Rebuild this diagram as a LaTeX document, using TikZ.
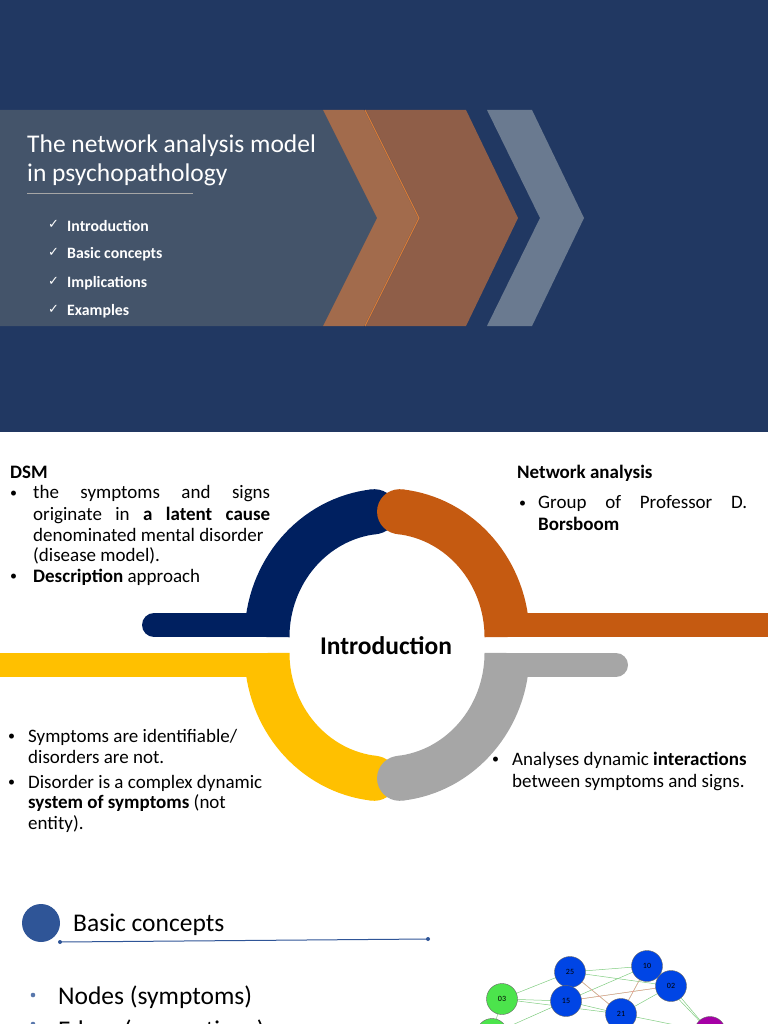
\documentclass[tikz,border=0pt]{standalone}
\usepackage{fontspec}
\setmainfont{Carlito}
\newfontfamily\dejavu{DejaVu Sans}
\begin{document}
\begin{tikzpicture}[x=1pt,y=-1pt,
  txt/.style={anchor=west,inner sep=0pt,font=\fontsize{19}{22}\selectfont},
  jl/.style={anchor=west,inner sep=0pt,font=\fontsize{19}{22}\selectfont,text width=#1,align=left},
  bul/.style={anchor=west,inner sep=0pt,font=\fontsize{14}{16}\selectfont},
  chk/.style={anchor=west,inner sep=0pt,text=white,font=\fontsize{15.8}{18}\selectfont\bfseries},
  gnode/.style={circle,draw=black!60,line width=0.4pt,minimum size=31pt,inner sep=0pt,font=\fontsize{8}{9}\selectfont},
  ed/.style={green!60!black!50,line width=0.5pt},
  ring/.style={line width=45pt}]
\useasboundingbox (0,0) rectangle (768,1024);
\clip (0,0) rectangle (768,1024);
\definecolor{topbg}{HTML}{213862}
\definecolor{band}{HTML}{44546A}
\definecolor{or1}{HTML}{A26B4C}
\definecolor{or2}{HTML}{8F5E48}
\definecolor{orl}{HTML}{D07838}
\definecolor{chv}{HTML}{6A7A90}
\definecolor{navy}{HTML}{002060}
\definecolor{orng}{HTML}{C55A11}
\definecolor{yel}{HTML}{FFC000}
\definecolor{gry}{HTML}{A6A6A6}
\definecolor{blu}{HTML}{2F5597}
% top slide
\fill[topbg] (0,0) rectangle (768,432);
\fill[band] (0,110) -- (323,110) -- (377,218) -- (323,326) -- (0,326) -- cycle;
\fill[or1] (323,110) -- (364,110) -- (418,218) -- (364,326) -- (323,326) -- (377,218) -- cycle;
\fill[or2] (366,110) -- (466,110) -- (518,218) -- (466,326) -- (366,326) -- (420,218) -- cycle;
\draw[orl,line width=1.5pt] (365,110) -- (419,218) -- (365,326);
\fill[chv] (487,110) -- (532,110) -- (584,218) -- (532,326) -- (487,326) -- (540,218) -- cycle;
\node[anchor=west,inner sep=0pt,text=white,font=\fontsize{25.5}{28}\selectfont] (t1) at (27,146) {The network analysis model};
\node[anchor=west,inner sep=0pt,text=white,font=\fontsize{25.5}{28}\selectfont] (t2) at (27,175) {in psychopathology};
\draw[gray!70,line width=0.8pt] (27,193) -- (193,193);
\foreach \y/\t [count=\i] in {226/Introduction,254/Basic concepts,283/Implications,311/Examples}{
  \node[anchor=west,inner sep=0pt,text=white,font=\dejavu\fontsize{13}{14}\selectfont] (c\i) at (48,\y-2) {✓};
  \node[chk] (k\i) at (67,\y) {\t};
}
% ring
\draw[navy,line width=24pt,line cap=round] (154,625) -- (266,625);
\draw[orng,line width=24pt] (500,625) -- (768,625);
\draw[yel,line width=24pt] (0,665) -- (270,665);
\draw[gry,line width=24pt,line cap=round] (500,665) -- (616,665);
\draw[navy,ring] (267,637) arc[start angle=180,end angle=264,x radius=120,y radius=126] coordinate (e1);
\draw[orng,ring] (507,637) arc[start angle=360,end angle=276,x radius=120,y radius=126] coordinate (e2);
\draw[yel,ring] (267,653) arc[start angle=180,end angle=96,x radius=120,y radius=126] coordinate (e3);
\draw[gry,ring] (507,653) arc[start angle=0,end angle=84,x radius=120,y radius=126] coordinate (e4);
\fill[navy] (e1) circle (22.5);
\fill[orng] (e2) circle (22.5);
\fill[yel] (e3) circle (22.5);
\fill[gry] (e4) circle (22.5);
\node[font=\fontsize{25.5}{28}\selectfont\bfseries,inner sep=0pt] (intro) at (386,646) {Introduction};
% texts
\node[txt,font=\fontsize{19}{22}\selectfont\bfseries] (dsm) at (10,472) {DSM};
\node[bul] (b1) at (10,494) {•};
\node[jl=237pt] (d1) at (33,494) {the\hfill symptoms\hfill and\hfill signs};
\node[jl=237pt] (d2) at (33,515) {originate\hfill in\hfill \textbf{a\hfill latent\hfill cause}};
\node[txt] (d3) at (33,535) {denominated mental disorder};
\node[txt] (d4) at (33,556) {(disease model).};
\node[bul] (b2) at (10,577) {•};
\node[txt] (d5) at (33,577) {\textbf{Description} approach};
\node[txt,font=\fontsize{19}{22}\selectfont\bfseries] (na) at (517,473) {Network analysis};
\node[bul] (b3) at (519,504) {•};
\node[jl=209pt] (g1) at (538,504) {Group\hfill of\hfill Professor\hfill D.};
\node[txt] (g2) at (538,524) {\textbf{Borsboom}};
\node[bul] (b4) at (8,737) {•};
\node[txt] (s1) at (28,737) {Symptoms are identifiable/};
\node[txt] (s2) at (28,757) {disorders are not.};
\node[bul] (b5) at (8,783) {•};
\node[txt] (s3) at (28,783) {Disorder is a complex dynamic};
\node[txt] (s4) at (28,803) {\textbf{system of symptoms} (not};
\node[txt] (s5) at (28,824) {entity).};
\node[bul] (b6) at (492,760) {•};
\node[txt] (r1) at (512,760) {Analyses dynamic \textbf{interactions}};
\node[txt] (r2) at (512,783) {between symptoms and signs.};
% basic concepts
\fill[blu] (41,923) circle (19);
\node[anchor=west,inner sep=0pt,font=\fontsize{25.5}{28}\selectfont] (bc) at (73,925) {Basic concepts};
\coordinate (l1) at (60,942); \coordinate (l2) at (428,939);
\draw[blu,line width=1pt] (l1) -- (l2);
\fill[blu] (l1) circle (2); \fill[blu] (l2) circle (2);
\fill[blu!80] (33,995) circle (2.3);
\node[anchor=west,inner sep=0pt,font=\fontsize{25.5}{28}\selectfont] (n1) at (58,997) {Nodes (symptoms)};
\fill[blu!80] (33,1024) circle (2.3);
\node[anchor=west,inner sep=0pt,font=\fontsize{25.5}{28}\selectfont] (n2) at (58,1031) {Edges (connections)};
% network
\coordinate (g25) at (570,972); \coordinate (g10) at (647,966); \coordinate (g02) at (671,986);
\coordinate (g03) at (502,999); \coordinate (g15) at (566,1001); \coordinate (g21) at (621,1014);
\coordinate (gp) at (710,1032); \coordinate (gg) at (492,1034);
\foreach \a/\b in {g25/g10,g25/g15,g25/g02,g25/g21,g03/g15,g03/g25,g03/g21,g15/g02,g15/g10,g15/g21,g21/g02,g21/g10,g10/g02,g02/gp,g21/gp,g03/gg,g15/gg,g10/gp}
  \draw[ed] (\a) -- (\b);
\draw[red!40,line width=0.4pt] (g25) -- (g21) (g10) -- (g21) (g15) -- (g02);
\foreach \c/\l in {g25/25,g10/10,g02/02,g15/15,g21/21}
  \node[gnode,fill=blue!70!cyan!90!black] (n\l) at (\c) {\l};
\node[gnode,fill=green!85!black!70] (n03) at (g03) {03};
\node[gnode,fill=violet!70!magenta] (npur) at (gp) {};
\node[gnode,fill=green!85!black!70] (ngr) at (gg) {};
\end{tikzpicture}
\end{document}
